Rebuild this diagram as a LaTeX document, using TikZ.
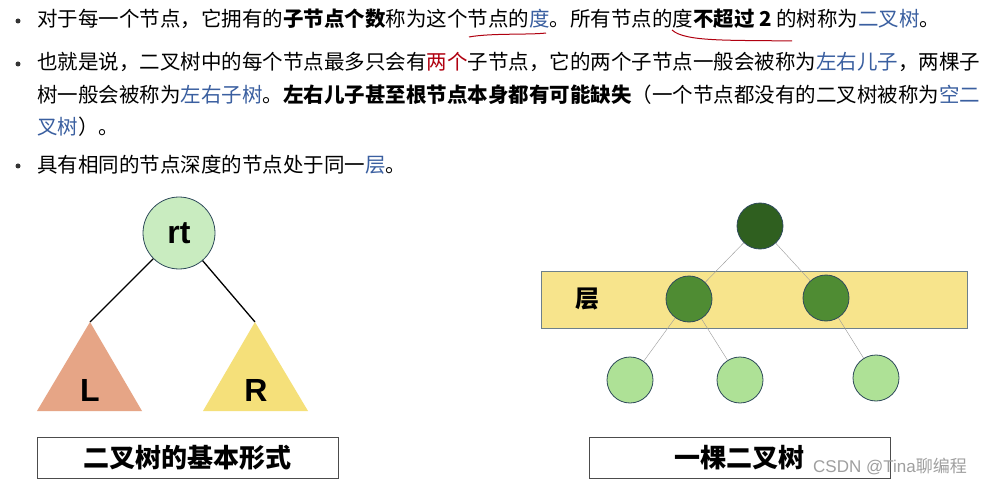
\documentclass[tikz,border=0pt]{standalone}
\usepackage{fontspec}
\setmainfont{Noto Sans CJK SC}
\newcommand\cjkb{\bfseries}
\newfontfamily\sans{Liberation Sans}
\newcommand\sansb{\sans\bfseries}
\definecolor{lnk}{HTML}{3A5FA0}
\definecolor{rd}{HTML}{B00010}
\definecolor{rtc}{HTML}{C9ECC0}
\definecolor{salm}{HTML}{E6A586}
\definecolor{yel}{HTML}{F5E07A}
\definecolor{band}{HTML}{F7E48C}
\definecolor{dk}{HTML}{2F5F1F}
\definecolor{md}{HTML}{4F8C33}
\definecolor{lt}{HTML}{AEE196}
\definecolor{edgec}{HTML}{2E4A5A}
\begin{document}
\begin{tikzpicture}[x=1pt,y=-1pt,
  txt/.style={anchor=base west,inner sep=0,font=\fontsize{20.5}{20.5}\selectfont},
  bul/.style={circle,fill=black!80,inner sep=0,minimum size=5},
  tnode/.style={circle,draw=edgec,line width=0.8pt,minimum size=46,inner sep=0},
  capbox/.style={draw=black!70,line width=0.8pt,minimum width=301,minimum height=41,inner sep=0,font=\fontsize{26}{26}\cjkb\selectfont},
  thinline/.style={draw=gray!80,line width=0.4pt}]
\useasboundingbox (0,0) rectangle (991,484);
\fill[white] (0,0) rectangle (991,484);
% bullets and text
\node[bul] (b1) at (18,21) {};
\node[txt] (t1) at (37,27) {对于每一个节点，它拥有的{\cjkb 子节点个数}称为这个节点的\textcolor{lnk}{度}。所有节点的度{\cjkb 不超过 2} 的树称为\textcolor{lnk}{二叉树}。};
\draw[rd,line width=1pt] (469,37) .. controls (490,33) and (530,35) .. (546,33);
\draw[rd,line width=1pt] (672,30) .. controls (685,42) and (730,40) .. (792,41);
\node[bul] (b2) at (18,64) {};
\node[txt] (t2) at (37,70) {也就是说，二叉树中的每个节点最多只会有\textcolor{rd}{两个}子节点，它的两个子节点一般会被称为\textcolor{lnk}{左右儿子}，两棵子};
\node[txt] (t3) at (37,103) {树一般会被称为\textcolor{lnk}{左右子树}。{\cjkb 左右儿子甚至根节点本身都有可能缺失}（一个节点都没有的二叉树被称为\textcolor{lnk}{空二}};
\node[txt] (t4) at (37,135) {\textcolor{lnk}{叉树}）。};
\node[bul] (b3) at (18,166) {};
\node[txt] (t5) at (37,172) {具有相同的节点深度的节点处于同一\textcolor{lnk}{层}。};
% left tree
\coordinate (la) at (90,322);
\coordinate (ra) at (255,322);
\node[circle,draw=edgec,line width=0.8pt,fill=rtc,minimum size=72,inner sep=0,font=\fontsize{32}{32}\sansb\selectfont] (rt) at (179,233) {rt};
\draw[line width=1.3pt] (rt) -- (la);
\draw[line width=1.3pt] (rt) -- (ra);
\fill[salm] (la) -- (142,411) -- (37,411) -- cycle;
\fill[yel] (ra) -- (308,411) -- (203,411) -- cycle;
\node[font=\fontsize{32}{32}\sansb\selectfont] (L) at (90,390) {L};
\node[font=\fontsize{32}{32}\sansb\selectfont] (R) at (256,390) {R};
\node[capbox] (c1) at (187.5,457.5) {二叉树的基本形式};
% right tree
\node[draw=edgec!70,line width=0.8pt,fill=band,minimum width=426,minimum height=57,inner sep=0] (bd) at (754,299.5) {};
\node[font=\fontsize{24}{24}\cjkb\selectfont] (ceng) at (587,299) {层};
\node[tnode,fill=dk] (r0) at (760,226) {};
\node[tnode,fill=md] (m1) at (689,299) {};
\node[tnode,fill=md] (m2) at (826,298) {};
\node[tnode,fill=lt] (l1) at (630,380) {};
\node[tnode,fill=lt] (l2) at (740,380) {};
\node[tnode,fill=lt] (l3) at (876,378) {};
\draw[thinline] (r0) -- (m1); \draw[thinline] (r0) -- (m2);
\draw[thinline] (m1) -- (l1); \draw[thinline] (m1) -- (l2); \draw[thinline] (m2) -- (l3);
\node[capbox] (c2) at (739.5,457.5) {一棵二叉树};
\node[anchor=base west,inner sep=0,text=gray!75,font=\fontsize{17}{17}\sans\selectfont] (wm) at (813,472) {CSDN @Tina{\rmfamily 聊编程}};
\end{tikzpicture}
\end{document}
